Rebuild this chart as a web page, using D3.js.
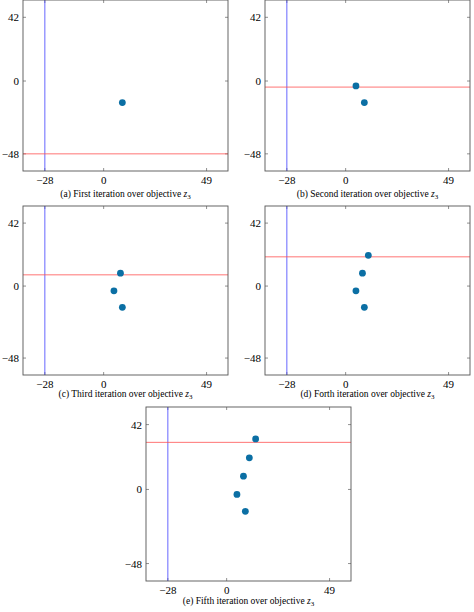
<!DOCTYPE html>
<html><head><meta charset="utf-8">
<script src="https://cdn.jsdelivr.net/npm/d3@7"></script>
<style>body{margin:0;background:#fff}</style>
</head><body>
<script>
// iteration points (z1, z2) as they accumulate
const pointsA = [[8.9, -14.2]];
const pointsB = [[8.9, -14.2], [4.9, -3.2]];
const pointsC = [[8.9, -14.2], [4.9, -3.2], [8.0, 8.6]];
const pointsD = [[8.9, -14.2], [4.9, -3.2], [8.0, 8.6], [10.8, 20.5]];
const pointsE = [[8.9, -14.2], [4.9, -3.2], [8.0, 8.6], [10.8, 20.5], [13.8, 32.7]];
const redLevels = [-48, -4, 7.5, 19.5, 30.5];
const blueLevel = -28;
const xTicks = [-28, 0, 49];
const yTicks = [-48, 0, 42];
const captions = ["(a) First iteration over objective ", "(b) Second iteration over objective ",
  "(c) Third iteration over objective ", "(d) Forth iteration over objective ",
  "(e) Fifth iteration over objective "];

const svg = d3.select("body").append("svg").attr("width", 474).attr("height", 612)
  .attr("font-family", "'Liberation Serif','DejaVu Serif',serif");

const panels = [
  {pts: pointsA, x0: 23, x1: 228, y0: 0, y1: 171, cap: 197},
  {pts: pointsB, x0: 265, x1: 470, y0: 0, y1: 171, cap: 197},
  {pts: pointsC, x0: 23, x1: 228, y0: 206, y1: 375, cap: 397},
  {pts: pointsD, x0: 265, x1: 470, y0: 206, y1: 375, cap: 397},
  {pts: pointsE, x0: 146, x1: 351, y0: 407, y1: 581, cap: 604}
];

panels.forEach((p, i) => {
  const x = d3.scaleLinear().domain([-38.4, 59.2]).range([p.x0, p.x1]);
  const y = d3.scaleLinear().domain([-59.3, 53.4]).range([p.y1, p.y0]);
  const g = svg.append("g");

  // inward ticks on all four sides
  xTicks.forEach(t => {
    g.append("line").attr("x1", x(t)).attr("x2", x(t)).attr("y1", p.y1).attr("y2", p.y1 - 3).attr("stroke", "#444").attr("stroke-width", 0.6);
    g.append("line").attr("x1", x(t)).attr("x2", x(t)).attr("y1", p.y0).attr("y2", p.y0 + 3).attr("stroke", "#444").attr("stroke-width", 0.6);
    g.append("text").attr("x", x(t)).attr("y", p.y1 + 13).attr("text-anchor", "middle").attr("font-size", 11)
      .text(t < 0 ? "\u2212" + (-t) : t);
  });
  yTicks.forEach(t => {
    g.append("line").attr("x1", p.x0).attr("x2", p.x0 + 3).attr("y1", y(t)).attr("y2", y(t)).attr("stroke", "#444").attr("stroke-width", 0.6);
    g.append("line").attr("x1", p.x1).attr("x2", p.x1 - 3).attr("y1", y(t)).attr("y2", y(t)).attr("stroke", "#444").attr("stroke-width", 0.6);
    g.append("text").attr("x", p.x0 - 4).attr("y", y(t) + 4).attr("text-anchor", "end").attr("font-size", 11)
      .text(t < 0 ? "\u2212" + (-t) : t);
  });

  g.append("line").attr("x1", x(blueLevel)).attr("x2", x(blueLevel)).attr("y1", p.y0).attr("y2", p.y1)
    .attr("stroke", "#4040ff").attr("stroke-width", 0.8);
  g.append("line").attr("x1", p.x0).attr("x2", p.x1).attr("y1", y(redLevels[i])).attr("y2", y(redLevels[i]))
    .attr("stroke", "#ff5050").attr("stroke-width", 0.8);

  g.selectAll("circle").data(p.pts).join("circle")
    .attr("cx", d => x(d[0])).attr("cy", d => y(d[1])).attr("r", 3.4).attr("fill", "#0b6fa4");

  g.append("rect").attr("x", p.x0).attr("y", p.y0).attr("width", p.x1 - p.x0).attr("height", p.y1 - p.y0)
    .attr("fill", "none").attr("stroke", "#555").attr("stroke-width", 0.9);

  const t = g.append("text").attr("x", (p.x0 + p.x1) / 2).attr("y", p.cap).attr("text-anchor", "middle").attr("font-size", 9.5);
  t.append("tspan").text(captions[i]);
  t.append("tspan").attr("font-style", "italic").text("z");
  t.append("tspan").attr("font-size", 7).attr("dy", 2).text("3");
});
</script>
</body></html>
